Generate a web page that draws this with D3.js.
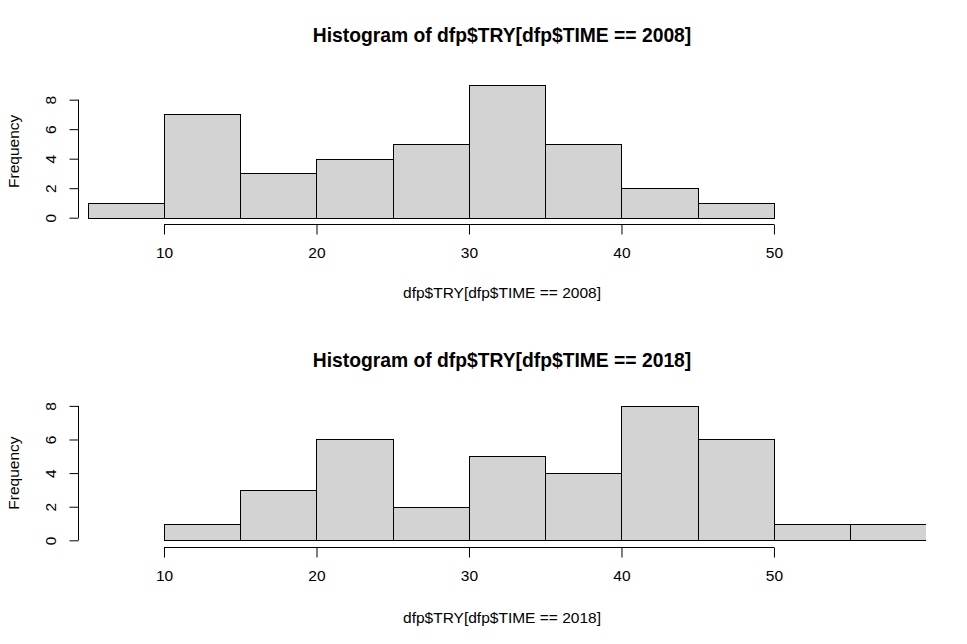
<!DOCTYPE html>
<html>
<head>
<meta charset="utf-8">
<script src="https://cdn.jsdelivr.net/npm/d3@7"></script>
<style>
  body { margin: 0; background: #fff; }
  svg { display: block; }
  text { font-family: "Liberation Sans", Arial, sans-serif; fill: #000; }
</style>
</head>
<body>
<svg id="chart" width="967" height="644"></svg>
<script>
// data
var breaks2008 = [5, 10, 15, 20, 25, 30, 35, 40, 45, 50];
var counts2008 = [1, 7, 3, 4, 5, 9, 5, 2, 1];
var breaks2018 = [10, 15, 20, 25, 30, 35, 40, 45, 50, 55, 60];
var counts2018 = [1, 3, 6, 2, 5, 4, 8, 6, 1, 1];
var xTicks = [10, 20, 30, 40, 50];
var yTicks = [0, 2, 4, 6, 8];
var titles = ["Histogram of dfp$TRY[dfp$TIME == 2008]", "Histogram of dfp$TRY[dfp$TIME == 2018]"];
var xLabels = ["dfp$TRY[dfp$TIME == 2008]", "dfp$TRY[dfp$TIME == 2018]"];

var svg = d3.select("#chart");

var panels = [
  { breaks: breaks2008, counts: counts2008, yDom: [-0.36, 9.36], top: 79.6, bottom: 223, titleY: 42, xlabY: 298 },
  { breaks: breaks2018, counts: counts2018, yDom: [-0.32, 8.32], top: 400.5, bottom: 545.7, titleY: 367, xlabY: 623 }
];

var left = 78, right = 926;

panels.forEach(function (p, i) {
  var x = d3.scaleLinear().domain([4.36, 59.97]).range([left, right]);
  var y = d3.scaleLinear().domain(p.yDom).range([p.bottom, p.top]);
  var g = svg.append("g");

  // clip to the plot region
  var clipId = "clip" + i;
  svg.append("clipPath").attr("id", clipId)
    .append("rect")
    .attr("x", left).attr("y", p.top)
    .attr("width", right - left).attr("height", p.bottom - p.top);

  var bins = p.counts.map(function (c, k) {
    return { x0: p.breaks[k], x1: p.breaks[k + 1], n: c };
  });

  g.append("g").attr("clip-path", "url(#" + clipId + ")")
    .selectAll("rect")
    .data(bins)
    .enter().append("rect")
    .attr("x", function (d) { return Math.round(x(d.x0)) + 0.5; })
    .attr("y", function (d) { return Math.round(y(d.n)) + 0.5; })
    .attr("width", function (d) { return Math.round(x(d.x1)) - Math.round(x(d.x0)); })
    .attr("height", function (d) { return Math.round(y(0)) - Math.round(y(d.n)); })
    .attr("fill", "#d3d3d3")
    .attr("stroke", "#000")
    .attr("stroke-width", 1);

  // x axis
  var xAxis = d3.axisBottom(x).tickValues(xTicks).tickSize(10).tickPadding(12).tickFormat(d3.format("d"));
  var gx = g.append("g")
    .attr("transform", "translate(0," + (Math.round(p.bottom) + 1.5) + ")")
    .call(xAxis);
  gx.select(".domain").attr("d", "M" + x(xTicks[0]) + ",0H" + x(xTicks[xTicks.length - 1]));

  // y axis
  var yAxis = d3.axisLeft(y).tickValues(yTicks).tickSize(9).tickPadding(0).tickFormat(d3.format("d"));
  var gy = g.append("g")
    .attr("transform", "translate(" + (left + 0.5) + ",0)")
    .call(yAxis);
  gy.select(".domain").attr("d", "M0," + y(yTicks[0]) + "V" + y(yTicks[yTicks.length - 1]));
  gy.selectAll(".tick text")
    .attr("x", 0).attr("dy", null)
    .attr("transform", "translate(-28,0) rotate(-90)")
    .attr("text-anchor", "middle")
    .attr("dominant-baseline", "central");

  g.selectAll(".domain, .tick line").attr("stroke", "#000").attr("stroke-width", 1);
  g.selectAll(".tick text").attr("font-size", 15.5).attr("fill", "#000")
    .style("font-family", "'Liberation Sans', Arial, sans-serif");

  var mid = (left + right) / 2;
  g.append("text")
    .attr("x", mid).attr("y", p.titleY)
    .attr("text-anchor", "middle")
    .attr("font-size", 19.3).attr("font-weight", "bold")
    .text(titles[i]);

  g.append("text")
    .attr("x", mid).attr("y", p.xlabY)
    .attr("text-anchor", "middle")
    .attr("font-size", 15.5)
    .text(xLabels[i]);

  g.append("text")
    .attr("transform", "translate(19," + ((p.top + p.bottom) / 2) + ") rotate(-90)")
    .attr("text-anchor", "middle")
    .attr("font-size", 15.5)
    .text("Frequency");
});
</script>
</body>
</html>
